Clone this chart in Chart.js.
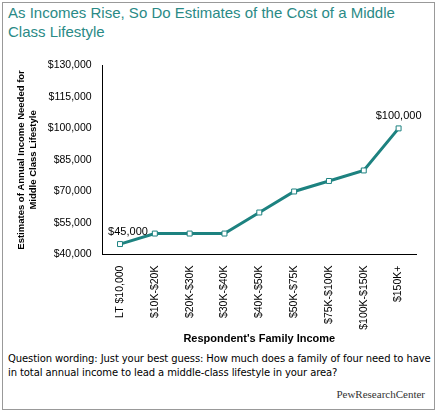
<!DOCTYPE html>
<html>
<head>
<meta charset="utf-8">
<script src="https://cdn.jsdelivr.net/npm/chart.js@4"></script>
<style>
  body { margin: 0; background: #fff; font-family: Verdana, "DejaVu Sans", sans-serif; }
  #frame { position: absolute; left: 2px; top: 2px; width: 433px; height: 408px; border: 1px solid #999; box-sizing: border-box; }
  #title { position: absolute; left: 8px; top: 3px; width: 420px; color: #2a8a86; font-size: 15px; line-height: 19px; font-family: "Liberation Sans", Arial, sans-serif; }
  #wrap { position: absolute; left: 8px; top: 56px; width: 420px; height: 294px; }
  #note { position: absolute; left: 8px; top: 352px; width: 425px; font-size: 10px; line-height: 14px; font-family: "DejaVu Sans", sans-serif; letter-spacing: -0.1px; }
  #pew { position: absolute; right: 14px; top: 388px; font-size: 11px; font-family: "Liberation Serif", serif; color: #333; }
</style>
</head>
<body>
<div id="frame"></div>
<div id="title">As Incomes Rise, So Do Estimates of the Cost of a Middle Class Lifestyle</div>
<div id="wrap"><canvas id="chart"></canvas></div>
<div id="note">Question wording: Just your best guess: How much does a family of four need to have in total annual income to lead a middle-class lifestyle in your area?</div>
<div id="pew">PewResearchCenter</div>
<script>
// Données du graphique
const categories = ["LT $10,000", "$10K-$20K", "$20K-$30K", "$30K-$40K", "$40K-$50K", "$50K-$75K", "$75K-$100K", "$100K-$150K", "$150K+"];
const estimates = [45000, 50000, 50000, 50000, 60000, 70000, 75000, 80000, 100000];
const yTicks = [40000, 55000, 70000, 85000, 100000, 115000, 130000];
const pointLabels = { 0: "$45,000", 8: "$100,000" };

const teal = '#1d8280';
const money = v => '$' + v.toLocaleString('en-US');
const font = '"Liberation Sans", Arial, sans-serif';

// Étiquettes sur certains points
const labelPlugin = {
  id: 'pointLabels',
  afterDatasetsDraw(chart) {
    const ctx = chart.ctx;
    const meta = chart.getDatasetMeta(0);
    ctx.save();
    ctx.font = '11px ' + font;
    ctx.fillStyle = '#000';
    ctx.textAlign = 'center';
    Object.keys(pointLabels).forEach(i => {
      const p = meta.data[i];
      ctx.fillText(pointLabels[i], p.x + (i == 0 ? 8 : 0), p.y - 9);
    });
    ctx.restore();
  }
};

new Chart(document.getElementById('chart'), {
  type: 'line',
  data: {
    labels: categories,
    datasets: [{
      data: estimates,
      borderColor: teal,
      borderWidth: 3,
      pointStyle: 'rect',
      pointRadius: 3.5,
      pointBackgroundColor: '#fff',
      pointBorderColor: teal,
      pointBorderWidth: 1,
      tension: 0
    }]
  },
  plugins: [labelPlugin],
  options: {
    responsive: true,
    maintainAspectRatio: false,
    animation: false,
    layout: { padding: { top: 8, right: 12, left: 4 } },
    plugins: { legend: { display: false }, tooltip: { enabled: false } },
    scales: {
      x: {
        offset: true,
        grid: { display: false, offset: true, drawTicks: true },
        border: { color: '#000' },
        ticks: { color: '#000', font: { size: 10.5, family: font }, maxRotation: 90, minRotation: 90 },
        title: { display: true, text: "Respondent's Family Income", color: '#000', font: { size: 11, weight: 'bold', family: font }, padding: { top: 0 } }
      },
      y: {
        min: 40000,
        max: 130000,
        afterBuildTicks: axis => { axis.ticks = yTicks.map(v => ({ value: v })); },
        grid: { display: false, drawTicks: true },
        border: { color: '#000' },
        ticks: { color: '#000', font: { size: 10.5, family: font }, callback: v => money(v) },
        title: { display: true, text: ['Estimates of Annual Income Needed for', 'Middle Class Lifestyle'], color: '#000', font: { size: 9.5, weight: 'bold', family: font }, padding: { bottom: 6 } }
      }
    }
  }
});
</script>
</body>
</html>
